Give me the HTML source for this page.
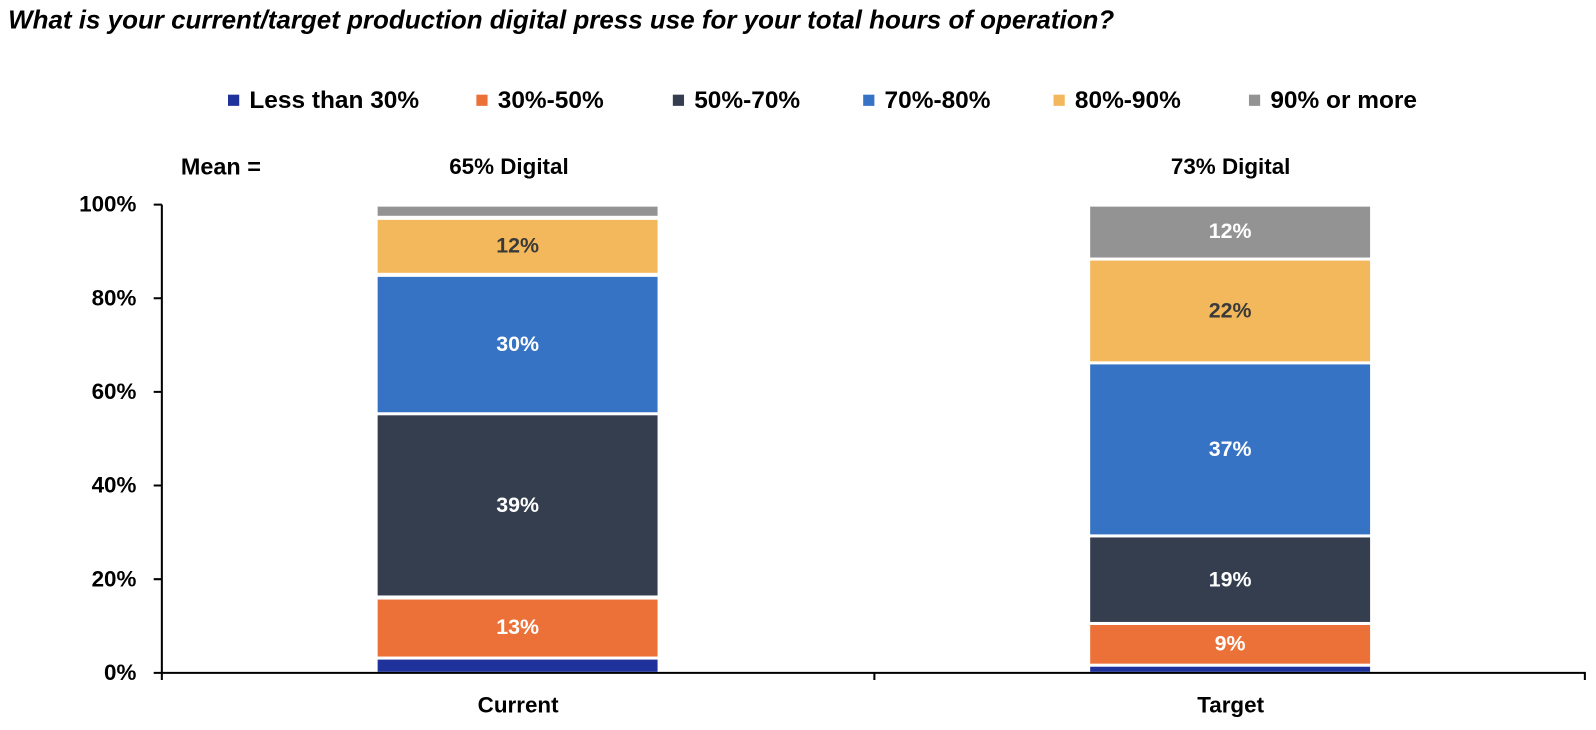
<!DOCTYPE html>
<html><head><style>
body{margin:0;width:1596px;height:730px;background:#fff;font-family:"Liberation Sans",sans-serif;overflow:hidden}
#w{position:absolute;left:0;top:0;width:1568px;height:717px;transform:scale(1.0179);transform-origin:0 0}
.t{position:absolute;font-weight:bold;white-space:nowrap;line-height:1}
.c{transform:translate(-50%,-50%)}
.r{transform:translate(-100%,-50%)}
.seg{position:absolute;color:#fff;font-weight:bold;font-size:21px;display:flex;align-items:center;justify-content:center}
.lg{position:absolute;top:99px;transform:translateY(-50%);font-size:24px;font-weight:bold;white-space:nowrap;line-height:1}
.lg i{display:inline-block;width:11px;height:11px;margin-right:10px;vertical-align:2px}
</style></head><body><div id="w">
<div class="t" style="left:8px;top:8px;font-size:25.5px;font-style:italic">What is your current/target production digital press use for your total hours of operation?</div>
<div class="lg" style="left:224px"><i style="background:#1f319b"></i>Less than 30%</div>
<div class="lg" style="left:468px"><i style="background:#eb7138"></i>30%-50%</div>
<div class="lg" style="left:661px"><i style="background:#353e4f"></i>50%-70%</div>
<div class="lg" style="left:848px"><i style="background:#3673c4"></i>70%-80%</div>
<div class="lg" style="left:1035px"><i style="background:#f3b85b"></i>80%-90%</div>
<div class="lg" style="left:1227px"><i style="background:#939393"></i>90% or more</div>
<div class="t c" style="left:217px;top:164px;font-size:23px">Mean =</div>
<div class="t c" style="left:500px;top:164px;font-size:22px">65% Digital</div>
<div class="t c" style="left:1209px;top:164px;font-size:22px">73% Digital</div>
<div class="t r" style="left:134px;top:201px;font-size:22px">100%</div>
<div class="t r" style="left:134px;top:293px;font-size:22px">80%</div>
<div class="t r" style="left:134px;top:385px;font-size:22px">60%</div>
<div class="t r" style="left:134px;top:477px;font-size:22px">40%</div>
<div class="t r" style="left:134px;top:569px;font-size:22px">20%</div>
<div class="t r" style="left:134px;top:661px;font-size:22px">0%</div>
<svg style="position:absolute;left:0;top:0" width="1568" height="717">
<g stroke="#000" stroke-width="2" fill="none">
<path d="M159 201V668M151 201H159M151 293H159M151 385H159M151 477H159M151 569H159M151 661H1558M859 661V668M1557 661V668"/>
</g></svg>
<div class="seg" style="left:371px;top:648px;width:275px;height:12px;background:#1f319b"></div>
<div class="seg" style="left:371px;top:589px;width:275px;height:56px;background:#eb7138">13%</div>
<div class="seg" style="left:371px;top:408px;width:275px;height:177px;background:#353e4f">39%</div>
<div class="seg" style="left:371px;top:272px;width:275px;height:133px;background:#3673c4">30%</div>
<div class="seg" style="left:371px;top:216px;width:275px;height:52px;background:#f3b85b;color:#3a3a3a">12%</div>
<div class="seg" style="left:371px;top:203px;width:275px;height:9px;background:#939393"></div>
<div class="seg" style="left:1071px;top:655px;width:275px;height:5px;background:#1f319b"></div>
<div class="seg" style="left:1071px;top:614px;width:275px;height:38px;background:#eb7138">9%</div>
<div class="seg" style="left:1071px;top:528px;width:275px;height:83px;background:#353e4f">19%</div>
<div class="seg" style="left:1071px;top:358px;width:275px;height:167px;background:#3673c4">37%</div>
<div class="seg" style="left:1071px;top:256px;width:275px;height:99px;background:#f3b85b;color:#3a3a3a">22%</div>
<div class="seg" style="left:1071px;top:203px;width:275px;height:50px;background:#939393">12%</div>
<div class="t c" style="left:509px;top:693px;font-size:22px">Current</div>
<div class="t c" style="left:1209px;top:693px;font-size:22px">Target</div>
</div></body></html>
